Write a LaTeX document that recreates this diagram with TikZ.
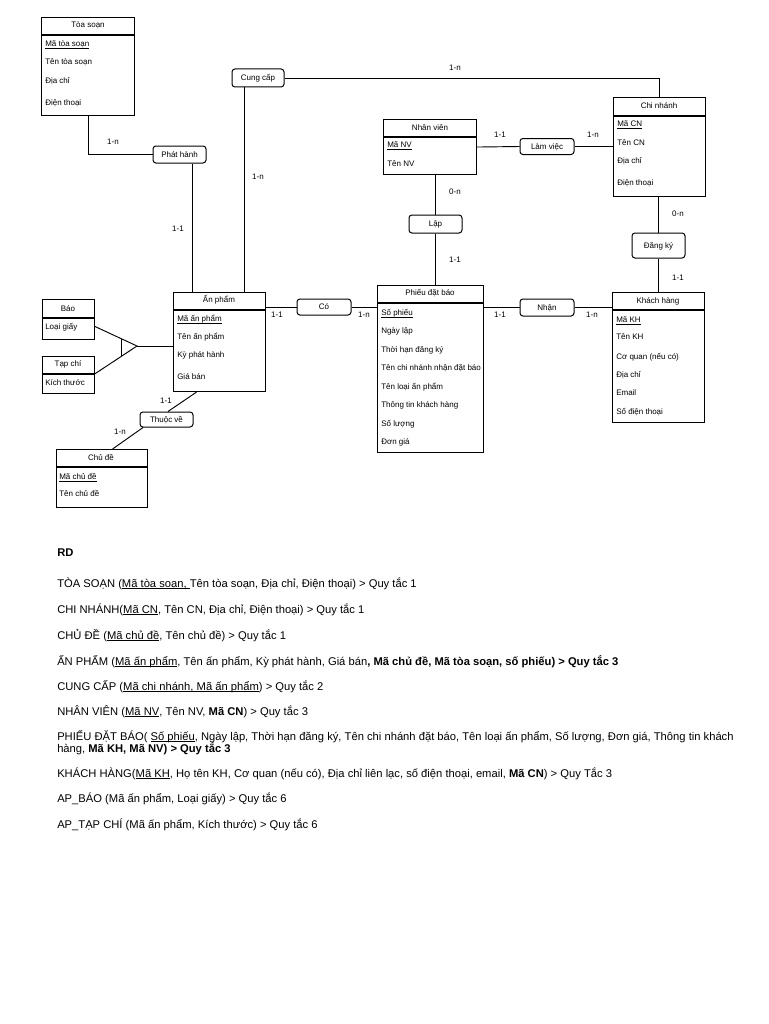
\documentclass[tikz,border=0pt]{standalone}
\usepackage{fontspec}
\setmainfont{Liberation Sans}
\usetikzlibrary{calc}
\newcommand\dfont{\fontsize{6}{7}\selectfont}
\newcommand\rfont{\fontsize{8.4}{9.6}\selectfont}
\newcommand\ul[1]{\setbox0\hbox{#1}\rlap{\rule[-1.1pt]{\wd0}{0.45pt}}\box0\relax}
\begin{document}
\begin{tikzpicture}[x=0.75pt,y=-0.75pt,
  ent/.style={draw, line width=0.8pt, anchor=north west, inner sep=0pt},
  rel/.style={draw, line width=0.75pt, rounded corners=2.2pt, inner sep=0pt, font=\dfont, text height=4.3pt, text depth=0pt},
  hd/.style={font=\dfont, inner sep=0pt, text height=4.3pt, text depth=0pt},
  att/.style={font=\dfont, anchor=west, inner sep=0pt, text height=4.3pt, text depth=0pt},
  card/.style={font=\dfont, inner sep=0pt, text height=4.3pt, text depth=0pt},
  ln/.style={line width=0.7pt},
  hl/.style={line width=0.8pt},
  rline/.style={font=\rfont, anchor=west, inner sep=0pt, text height=6pt, text depth=0pt}]
\fill[white] (0,0) rectangle (768,1024);
\useasboundingbox (0,0) rectangle (768,1024);

% ---------- entities ----------
\node[ent, minimum width=93*0.75pt, minimum height=98*0.75pt] (ts) at (41,17) {};
\draw[hl] (ts.north west) ++(0,18) -- ++(93,0);
\node[hd] (tsh) at (88,25) {Tòa soạn};
\node[att] (ts1) at (45,44) {\ul{Mã tòa soạn}};
\node[att] (ts2) at (45,62) {Tên tòa soạn};
\node[att] (ts3) at (45,81) {Địa chỉ};
\node[att] (ts4) at (45,103) {Điện thoại};

\node[ent, minimum width=92*0.75pt, minimum height=99*0.75pt] (cn) at (613,97) {};
\draw[hl] (cn.north west) ++(0,19) -- ++(92,0);
\node[hd] (cnh) at (659,106) {Chi nhánh};
\node[att] (cn1) at (617,124) {\ul{Mã CN}};
\node[att] (cn2) at (617,143) {Tên CN};
\node[att] (cn3) at (617,161) {Địa chỉ};
\node[att] (cn4) at (617,183) {Điện thoại};

\node[ent, minimum width=93*0.75pt, minimum height=55*0.75pt] (nv) at (383,119) {};
\draw[hl] (nv.north west) ++(0,18) -- ++(93,0);
\node[hd] (nvh) at (430,128) {Nhân viên};
\node[att] (nv1) at (387,145) {\ul{Mã NV}};
\node[att] (nv2) at (387,164) {Tên NV};

\node[ent, minimum width=92*0.75pt, minimum height=99*0.75pt] (ap) at (173,292) {};
\draw[hl] (ap.north west) ++(0,18) -- ++(92,0);
\node[hd] (aph) at (219,300) {Ấn phẩm};
\node[att] (ap1) at (177,319) {\ul{Mã ấn phẩm}};
\node[att] (ap2) at (177,337) {Tên ấn phẩm};
\node[att] (ap3) at (177,355) {Kỳ phát hành};
\node[att] (ap4) at (177,377) {Giá bán};

\node[ent, minimum width=106*0.75pt, minimum height=167*0.75pt] (pd) at (377,285) {};
\draw[hl] (pd.north west) ++(0,18) -- ++(106,0);
\node[hd] (pdh) at (430,293) {Phiếu đặt báo};
\node[att] (pd1) at (381,313) {\ul{Số phiếu}};
\node[att] (pd2) at (381,331) {Ngày lập};
\node[att] (pd3) at (381,350) {Thời hạn đăng ký};
\node[att] (pd4) at (381,368) {Tên chi nhánh nhận đặt báo};
\node[att] (pd5) at (381,387) {Tên loại ấn phẩm};
\node[att] (pd6) at (381,405) {Thông tin khách hàng};
\node[att] (pd7) at (381,424) {Số lượng};
\node[att] (pd8) at (381,442) {Đơn giá};

\node[ent, minimum width=92*0.75pt, minimum height=130*0.75pt] (kh) at (612,292) {};
\draw[hl] (kh.north west) ++(0,18) -- ++(92,0);
\node[hd] (khh) at (658,301) {Khách hàng};
\node[att] (kh1) at (616,320) {\ul{Mã KH}};
\node[att] (kh2) at (616,337) {Tên KH};
\node[att] (kh3) at (616,357) {Cơ quan (nếu có)};
\node[att] (kh4) at (616,375) {Địa chỉ};
\node[att] (kh5) at (616,393) {Email};
\node[att] (kh6) at (616,412) {Số điện thoại};

\node[ent, minimum width=52*0.75pt, minimum height=40*0.75pt] (bao) at (42,299) {};
\draw[hl] (bao.north west) ++(0,19) -- ++(52,0);
\node[hd] (baoh) at (68,309) {Báo};
\node[att] (bao1) at (45,327) {Loại giấy};

\node[ent, minimum width=52*0.75pt, minimum height=37*0.75pt] (tc) at (42,356) {};
\draw[hl] (tc.north west) ++(0,18) -- ++(52,0);
\node[hd] (tch) at (68,364) {Tạp chí};
\node[att] (tc1) at (45,383) {Kích thước};

\node[ent, minimum width=91*0.75pt, minimum height=58*0.75pt] (cd) at (56,449) {};
\draw[hl] (cd.north west) ++(0,18) -- ++(91,0);
\node[hd] (cdh) at (101,458) {Chủ đề};
\node[att] (cd1) at (59,477) {\ul{Mã chủ đề}};
\node[att] (cd2) at (59,494) {Tên chủ đề};

% ---------- relationships ----------
\node[rel, minimum width=53*0.75pt, minimum height=17*0.75pt] (ph) at (179.5,154.5) {Phát hành};
\node[rel, minimum width=52*0.75pt, minimum height=18*0.75pt] (cg) at (258,78) {Cung cấp};
\node[rel, minimum width=54*0.75pt, minimum height=16*0.75pt] (lv) at (547,146.5) {Làm việc};
\node[rel, minimum width=53*0.75pt, minimum height=18*0.75pt] (lap) at (435.5,224) {Lập};
\node[rel, minimum width=53*0.75pt, minimum height=25*0.75pt] (dk) at (658.5,245.5) {Đăng ký};
\node[rel, minimum width=54*0.75pt, minimum height=16*0.75pt] (co) at (324,307) {Có};
\node[rel, minimum width=54*0.75pt, minimum height=17*0.75pt] (nh) at (547,307.5) {Nhận};
\node[rel, minimum width=53*0.75pt, minimum height=15*0.75pt] (tv) at (166.5,419.5) {Thuộc về};

% ---------- connectors ----------
\coordinate (phx) at (192,0);
\coordinate (cgx) at (244,0);
\coordinate (apex) at (137,346);
\draw[ln] (ts.south) |- (ph.west);
\draw[ln] (ph.south -| phx) -- (ap.north -| phx);
\draw[ln] (cg.south -| cgx) -- (ap.north -| cgx);
\draw[ln] (cg.east) -| (cn.north);
\draw[ln] (nv.east) -- (lv.west);
\draw[ln] (lv.east) -- (lv.east -| cn.west);
\draw[ln] (lap.north |- nv.south) -- (lap.north);
\draw[ln] (lap.south) -- (lap.south |- pd.north);
\draw[ln] (dk.north |- cn.south) -- (dk.north);
\draw[ln] (dk.south) -- (dk.south |- kh.north);
\draw[ln] (ap.east |- co.west) -- (co.west);
\draw[ln] (co.east) -- (co.east -| pd.west);
\draw[ln] (pd.east |- nh.west) -- (nh.west);
\draw[ln] (nh.east) -- (nh.east -| kh.west);
\draw[ln] ([yshift=-5.25pt]bao.east) -- (apex) -- ([yshift=1pt]tc.east);
\draw[ln] (apex) -- (apex -| ap.west);
\draw[ln] ($([yshift=-5.25pt]bao.east)!0.628!(apex)$) -- ($([yshift=1pt]tc.east)!0.628!(apex)$);
\draw[ln] ([xshift=-17.25pt]ap.south) -- ([xshift=1.1pt]tv.north);
\draw[ln] ([xshift=-17.6pt]tv.south) -- ([xshift=7.9pt]cd.north);

% ---------- cardinalities ----------
\node[card] (c1) at (113,142) {1-n};
\node[card] (c2) at (178,229) {1-1};
\node[card] (c3) at (258,177) {1-n};
\node[card] (c4) at (455,68) {1-n};
\node[card] (c5) at (500,135) {1-1};
\node[card] (c6) at (593,135) {1-n};
\node[card] (c7) at (455,192) {0-n};
\node[card] (c8) at (455,260) {1-1};
\node[card] (c9) at (678,214) {0-n};
\node[card] (c10) at (678,278) {1-1};
\node[card] (c11) at (277,315) {1-1};
\node[card] (c12) at (364,315) {1-n};
\node[card] (c13) at (500,315) {1-1};
\node[card] (c14) at (592,315) {1-n};
\node[card] (c15) at (166,401) {1-1};
\node[card] (c16) at (120,432) {1-n};

% ---------- relational schema text ----------
\node[rline] (r0) at (57,552) {\textbf{RD}};
\node[rline] (r1) at (57,583) {TÒA SOẠN (\ul{Mã tòa soạn, }Tên tòa soạn, Địa chỉ, Điện thoại) > Quy tắc 1};
\node[rline] (r2) at (57,609) {CHI NHÁNH(\ul{Mã CN}, Tên CN, Địa chỉ, Điện thoại) > Quy tắc 1};
\node[rline] (r3) at (57,635) {CHỦ ĐỀ (\ul{Mã chủ đề}, Tên chủ đề) > Quy tắc 1};
\node[rline] (r4) at (57,661) {ẤN PHẨM (\ul{Mã ấn phẩm}, Tên ấn phẩm, Kỳ phát hành, Giá bán\textbf{, Mã chủ đề, Mã tòa soạn, số phiếu) > Quy tắc 3}};
\node[rline] (r5) at (57,686) {CUNG CẤP (\ul{Mã chi nhánh, Mã ấn phẩm}) > Quy tắc 2};
\node[rline] (r6) at (57,711) {NHÂN VIÊN (\ul{Mã NV}, Tên NV, \textbf{Mã CN}) > Quy tắc 3};
\node[rline] (r7a) at (57,736) {PHIẾU ĐẶT BÁO( \ul{Số phiếu}, Ngày lập, Thời hạn đăng ký, Tên chi nhánh đặt báo, Tên loại ấn phẩm, Số lượng, Đơn giá, Thông tin khách};
\node[rline] (r7b) at (57,748) {hàng, \textbf{Mã KH, Mã NV) > Quy tắc 3}};
\node[rline] (r8) at (57,773) {KHÁCH HÀNG(\ul{Mã KH}, Họ tên KH, Cơ quan (nếu có), Địa chỉ liên lạc, số điện thoại, email, \textbf{Mã CN}) > Quy Tắc 3};
\node[rline] (r9) at (57,798) {AP\_BÁO (Mã ấn phẩm, Loại giấy) > Quy tắc 6};
\node[rline] (r10) at (57,824) {AP\_TẠP CHÍ (Mã ấn phẩm, Kích thước) > Quy tắc 6};
\end{tikzpicture}
\end{document}
